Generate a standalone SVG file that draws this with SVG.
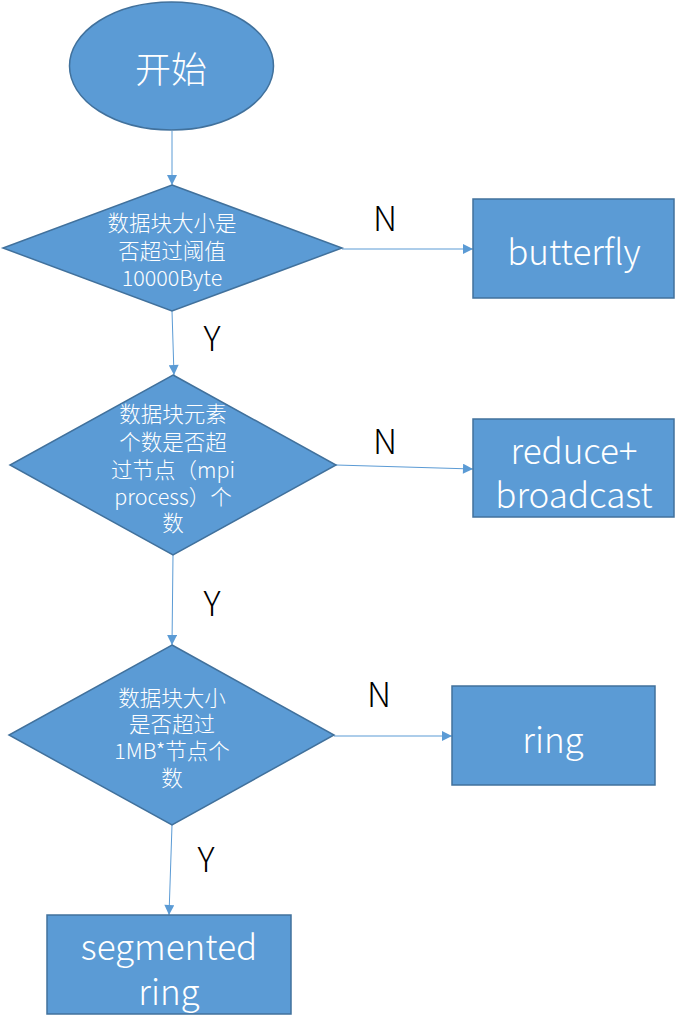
<svg xmlns="http://www.w3.org/2000/svg" width="677" height="1033" viewBox="0 0 677 1033">
<style>
.shape{fill:#5B9BD5;stroke:#41719C;stroke-width:1.5}
.wt{fill:#FFFFFF;font-family:"Noto Sans CJK SC","Microsoft YaHei",sans-serif;text-anchor:middle;dominant-baseline:central;font-weight:300}
.s{font-size:21.5px}
.b{font-size:35px}
.lbl{fill:#000000;font-family:"Noto Sans CJK SC",sans-serif;font-size:34px;font-weight:300;text-anchor:middle;dominant-baseline:central}
.conn{stroke:#5B9BD5;stroke-width:1;fill:none;marker-end:url(#ah)}
</style>
<defs>
<marker id="ah" viewBox="0 0 10 10" refX="10" refY="5" markerWidth="12" markerHeight="10" markerUnits="userSpaceOnUse" orient="auto">
<path d="M0,0 L10,5 L0,10 Z" fill="#5B9BD5"/>
</marker>
</defs>
<rect width="677" height="1033" fill="#FFFFFF"/>
<g id="connectors">
<line class="conn" x1="172" y1="131" x2="172" y2="185"/>
<line class="conn" x1="342" y1="249" x2="473" y2="249"/>
<line class="conn" x1="172" y1="311" x2="174" y2="375"/>
<line class="conn" x1="336" y1="465" x2="473" y2="469"/>
<line class="conn" x1="173" y1="555" x2="172" y2="645"/>
<line class="conn" x1="334" y1="736" x2="452" y2="736"/>
<line class="conn" x1="172" y1="825" x2="169" y2="915"/>
<text class="lbl" x="385" y="216">N</text>
<text class="lbl" x="212" y="336">Y</text>
<text class="lbl" x="385" y="439">N</text>
<text class="lbl" x="212" y="601">Y</text>
<text class="lbl" x="379" y="692">N</text>
<text class="lbl" x="206" y="857">Y</text>
</g>
<g id="start">
<ellipse class="shape" cx="171.5" cy="66" rx="102" ry="64"/>
<text class="wt" style="font-size:36px" x="171" y="67">开始</text>
</g>
<g id="d1">
<polygon class="shape" points="172,185 342,248 172,311 3,248"/>
<text class="wt s" x="172" y="221">数据块大小是</text>
<text class="wt s" x="172" y="249">否超过阈值</text>
<text class="wt s" x="172" y="276">10000Byte</text>
</g>
<g id="butterfly">
<rect class="shape" x="473" y="199" width="201" height="99"/>
<text class="wt b" x="574" y="249">butterfly</text>
</g>
<g id="d2">
<polygon class="shape" points="173,375 336,465 173,555 10,465"/>
<text class="wt s" x="173" y="412">数据块元素</text>
<text class="wt s" x="173" y="440">个数是否超</text>
<text class="wt s" x="173" y="468">过节点（mpi</text>
<text class="wt s" x="173" y="495">process）个</text>
<text class="wt s" x="173" y="521">数</text>
</g>
<g id="reduce">
<rect class="shape" x="473" y="419" width="201" height="98"/>
<text class="wt b" x="574" y="448">reduce+</text>
<text class="wt b" x="574" y="492">broadcast</text>
</g>
<g id="d3">
<polygon class="shape" points="172,645 334,735 172,825 9,735"/>
<text class="wt s" x="172" y="696">数据块大小</text>
<text class="wt s" x="172" y="722">是否超过</text>
<text class="wt s" x="172" y="749">1MB*节点个</text>
<text class="wt s" x="172" y="776">数</text>
</g>
<g id="ring">
<rect class="shape" x="452" y="686" width="203" height="99"/>
<text class="wt b" x="553" y="737">ring</text>
</g>
<g id="segmented">
<rect class="shape" x="47" y="915" width="244" height="99"/>
<text class="wt b" x="169" y="944">segmented</text>
<text class="wt b" x="169" y="989">ring</text>
</g>
</svg>
